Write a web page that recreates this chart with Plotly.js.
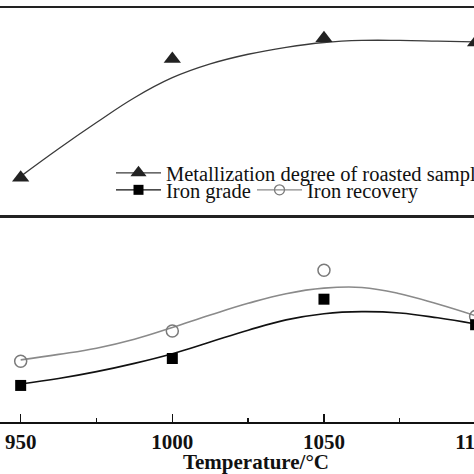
<!DOCTYPE html>
<html>
<head>
<meta charset="utf-8">
<script src="https://cdn.plot.ly/plotly-3.0.1.min.js"></script>
<style>
html, body { margin: 0; padding: 0; overflow: hidden; background: #fff; }
#chart { width: 512px; height: 474px; }
</style>
</head>
<body>
<div id="chart"></div>
<script>
// Measured data points
var temperature = [950, 1000, 1050, 1100];
var metallization = [75.4, 92.6, 95.6, 95.0];
var ironGrade = [75.3, 79.2, 87.8, 84.1];
var ironRecovery = [78.8, 83.2, 92.0, 85.3];

// Fitted curves
var fitTemperature = [950, 962.5, 975, 987.5, 1000, 1012.5, 1025, 1037.5, 1050, 1062.5, 1075, 1087.5, 1100];
var metallizationFit = [75.6, 79.6, 83.4, 87.0, 89.9, 91.9, 93.3, 94.3, 95.0, 95.3, 95.3, 95.2, 95.1];
var ironGradeFit = [75.5, 76.3, 77.3, 78.5, 79.9, 81.6, 83.3, 84.8, 85.7, 86.0, 85.8, 85.1, 84.2];
var ironRecoveryFit = [79.0, 79.8, 80.7, 82.0, 83.7, 85.5, 87.2, 88.6, 89.4, 89.5, 88.6, 87.1, 85.4];

var xTicks = [950, 1000, 1050, 1100];
var xTickText = ['950', '1000', '1050', '1100'];

var seriesNames = ['Metallization degree of roasted samples', 'Iron grade', 'Iron recovery'];

var serif = 'Liberation Serif, Times New Roman, Times, serif';

var traces = [
  {x: fitTemperature, y: metallizationFit, xaxis: 'x2', yaxis: 'y', mode: 'lines',
   line: {color: '#3a3a3a', width: 1.3, shape: 'spline', smoothing: 1.2}, showlegend: false, hoverinfo: 'skip'},
  {x: temperature, y: metallization, xaxis: 'x2', yaxis: 'y', mode: 'markers',
   marker: {symbol: 'triangle-up', size: 15, color: '#222'}, showlegend: false},
  {x: fitTemperature, y: ironRecoveryFit, xaxis: 'x', yaxis: 'y2', mode: 'lines',
   line: {color: '#8a8a8a', width: 1.6, shape: 'spline', smoothing: 1.2}, showlegend: false, hoverinfo: 'skip'},
  {x: fitTemperature, y: ironGradeFit, xaxis: 'x', yaxis: 'y2', mode: 'lines',
   line: {color: '#111', width: 1.6, shape: 'spline', smoothing: 1.2}, showlegend: false, hoverinfo: 'skip'},
  {x: temperature, y: ironRecovery, xaxis: 'x', yaxis: 'y2', mode: 'markers',
   marker: {symbol: 'circle-open', size: 12, color: '#7a7a7a', line: {width: 1.5, color: '#7a7a7a'}}, showlegend: false},
  {x: temperature, y: ironGrade, xaxis: 'x', yaxis: 'y2', mode: 'markers',
   marker: {symbol: 'square', size: 11, color: '#000'}, showlegend: false},
  // legend keys
  {x: [null], y: [null], xaxis: 'x2', yaxis: 'y', mode: 'lines+markers', name: seriesNames[0], legend: 'legend',
   line: {color: '#3a3a3a', width: 1.3}, marker: {symbol: 'triangle-up', size: 14, color: '#222'}},
  {x: [null], y: [null], xaxis: 'x', yaxis: 'y2', mode: 'lines+markers', name: seriesNames[1], legend: 'legend2',
   line: {color: '#111', width: 1.3}, marker: {symbol: 'square', size: 10, color: '#000'}},
  {x: [null], y: [null], xaxis: 'x', yaxis: 'y2', mode: 'lines+markers', name: seriesNames[2], legend: 'legend3',
   line: {color: '#8a8a8a', width: 1.3}, marker: {symbol: 'circle-open', size: 10, color: '#7a7a7a', line: {width: 1.3, color: '#7a7a7a'}}}
];

var xRange = [943.18, 1112.0];
var legendFont = {family: serif, size: 20.5, color: '#111'};

var layout = {
  width: 512, height: 474,
  margin: {l: 0, r: 0, t: 0, b: 0, pad: 0, autoexpand: false},
  paper_bgcolor: '#fff', plot_bgcolor: 'rgba(0,0,0,0)',
  showlegend: true,
  xaxis: {
    domain: [0, 1], anchor: 'y2', range: xRange,
    tickmode: 'array', tickvals: xTicks, ticktext: xTickText,
    ticks: 'inside', ticklen: 8, tickwidth: 1.6, tickcolor: '#111',
    minor: {ticks: 'inside', ticklen: 4, tickwidth: 1.4, tickcolor: '#111', tickvals: [975, 1025, 1075]},
    showline: true, linewidth: 2, linecolor: '#111', mirror: false,
    showgrid: false, zeroline: false,
    tickfont: {family: serif, size: 21, color: '#111', weight: 'bold'},
    title: {text: 'Temperature/°C', font: {family: serif, size: 21, color: '#111', weight: 'bold'}, standoff: 1}
  },
  xaxis2: {
    domain: [0, 1], anchor: 'y', range: xRange, matches: 'x',
    showticklabels: false, ticks: '',
    showline: true, linewidth: 2.5, linecolor: '#222', mirror: true,
    showgrid: false, zeroline: false
  },
  yaxis: {
    domain: [0.5464, 0.9831], anchor: 'x2', range: [70, 100],
    visible: false, showgrid: false, zeroline: false
  },
  yaxis2: {
    domain: [0.1097, 0.5464], anchor: 'x', range: [70, 100],
    visible: false, showgrid: false, zeroline: false
  },
  legend: {x: 111 / 512, y: (474 - 173) / 474, xanchor: 'left', yanchor: 'middle',
    bgcolor: 'rgba(0,0,0,0)', font: legendFont, itemwidth: 45, tracegroupgap: 0},
  legend2: {x: 111 / 512, y: (474 - 190) / 474, xanchor: 'left', yanchor: 'middle',
    bgcolor: 'rgba(0,0,0,0)', font: legendFont, itemwidth: 45},
  legend3: {x: 252 / 512, y: (474 - 190) / 474, xanchor: 'left', yanchor: 'middle',
    bgcolor: 'rgba(0,0,0,0)', font: legendFont, itemwidth: 45}
};

Plotly.newPlot('chart', traces, layout, {staticPlot: true, displayModeBar: false});
</script>
</body>
</html>
